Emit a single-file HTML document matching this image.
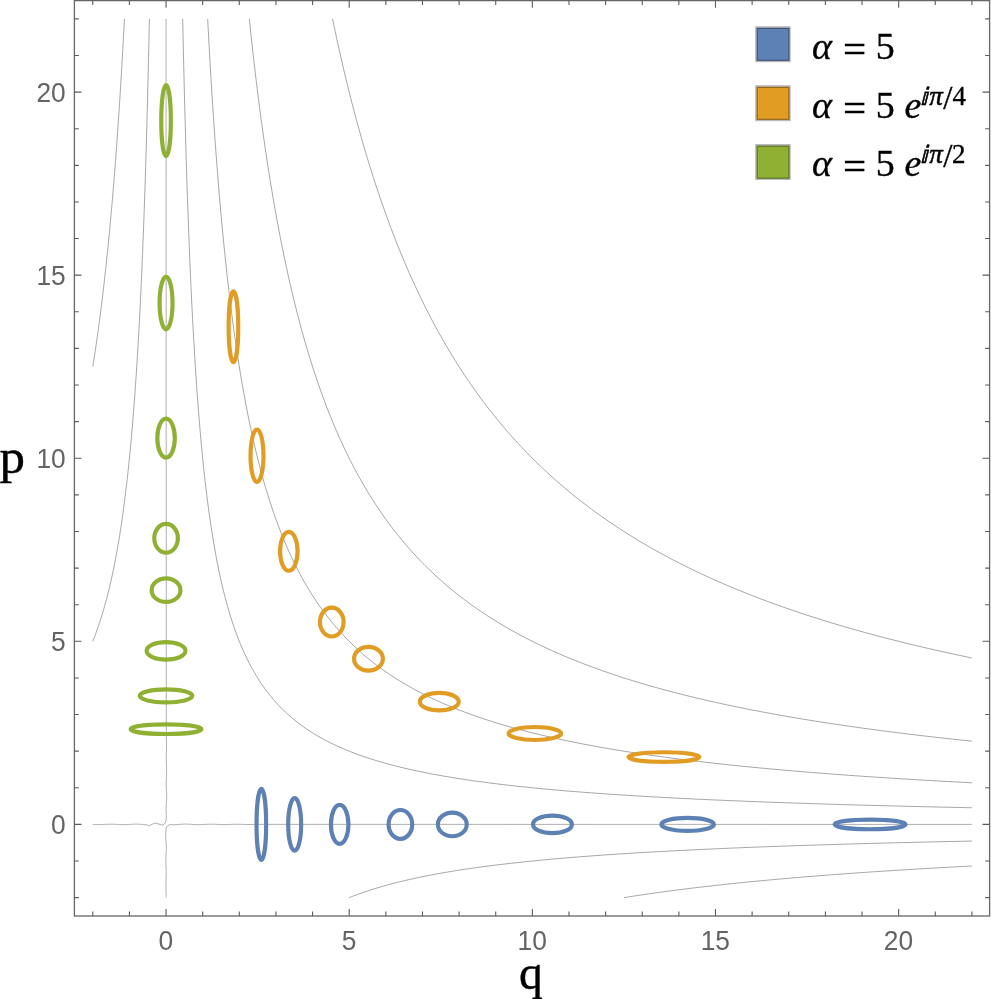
<!DOCTYPE html>
<html><head><meta charset="utf-8"><title>Squeezed states phase space</title>
<style>html,body{margin:0;padding:0;background:#fff}svg{display:block}.tk{font-family:"Liberation Sans",sans-serif;font-size:27.6px;fill:#646464;transform-box:fill-box;transform:scale(0.955,1.03)}.tl{transform-origin:100% 50%}.tb{transform-origin:50% 100%}.ax{font-family:"Liberation Serif",serif;font-size:48.5px;fill:#000;stroke:#000;stroke-width:0.4px}.lg{font-family:"Liberation Serif",serif;font-size:38px;fill:#000;stroke:#000;stroke-width:0.35px}</style></head><body>
<svg width="991" height="999" viewBox="0 0 991 999">
<rect width="991" height="999" fill="#fff"/>
<g fill="none" stroke="#5e5e5e" stroke-width="0.55">
<path d="M182.70 18.87 L183.03 34.34 L183.36 49.52 L183.70 64.41 L184.04 79.01 L184.40 93.33 L184.76 107.37 L185.12 121.15 L185.50 134.66 L185.88 147.91 L186.26 160.90 L186.66 173.65 L187.06 186.15 L187.48 198.41 L187.90 210.44 L188.32 222.23 L188.76 233.80 L189.20 245.14 L189.66 256.27 L190.12 267.19 L190.59 277.89 L191.07 288.39 L191.56 298.69 L192.06 308.79 L192.57 318.69 L193.09 328.41 L193.62 337.93 L194.16 347.28 L194.71 356.45 L195.27 365.44 L195.84 374.25 L196.43 382.90 L197.02 391.38 L197.63 399.70 L198.25 407.86 L198.88 415.86 L199.52 423.71 L200.18 431.41 L200.85 438.96 L201.53 446.36 L202.22 453.62 L202.93 460.75 L203.65 467.73 L204.39 474.58 L205.14 481.30 L205.91 487.90 L206.69 494.36 L207.48 500.70 L208.30 506.92 L209.12 513.02 L209.97 519.00 L210.83 524.87 L211.70 530.62 L212.60 536.26 L213.51 541.80 L214.44 547.23 L215.39 552.55 L216.35 557.78 L217.34 562.90 L218.34 567.92 L219.37 572.85 L220.41 577.68 L221.48 582.42 L222.56 587.07 L223.67 591.63 L224.80 596.10 L225.95 600.49 L227.12 604.79 L228.32 609.01 L229.54 613.14 L230.78 617.20 L232.05 621.18 L233.34 625.09 L234.66 628.92 L236.00 632.67 L237.37 636.35 L238.77 639.97 L240.19 643.51 L241.65 646.98 L243.13 650.39 L244.64 653.74 L246.18 657.01 L247.75 660.23 L249.35 663.38 L250.98 666.48 L252.64 669.51 L254.34 672.49 L256.07 675.40 L257.83 678.27 L259.63 681.07 L261.46 683.83 L263.33 686.53 L265.23 689.18 L267.18 691.77 L269.16 694.32 L271.18 696.82 L273.24 699.27 L275.34 701.68 L277.48 704.03 L279.66 706.35 L281.88 708.61 L284.15 710.84 L286.47 713.02 L288.82 715.16 L291.23 717.26 L293.68 719.32 L296.18 721.33 L298.73 723.31 L301.33 725.26 L303.98 727.16 L306.68 729.03 L309.43 730.86 L312.24 732.66 L315.11 734.42 L318.03 736.15 L321.00 737.84 L324.04 739.51 L327.13 741.14 L330.29 742.74 L333.50 744.31 L336.78 745.84 L340.13 747.35 L343.54 748.83 L347.01 750.29 L350.56 751.71 L354.17 753.11 L357.86 754.48 L361.61 755.82 L365.45 757.14 L369.35 758.43 L373.33 759.70 L377.39 760.94 L381.53 762.16 L385.75 763.35 L390.06 764.53 L394.44 765.68 L398.92 766.80 L403.48 767.91 L408.13 769.00 L412.87 770.06 L417.71 771.10 L422.63 772.13 L427.66 773.13 L432.78 774.12 L438.01 775.08 L443.34 776.03 L448.77 776.96 L454.30 777.87 L459.95 778.77 L465.71 779.64 L471.58 780.50 L477.56 781.35 L483.66 782.17 L489.88 782.98 L496.23 783.78 L502.69 784.56 L509.29 785.32 L516.01 786.08 L522.86 786.81 L529.85 787.53 L536.98 788.24 L544.24 788.94 L551.65 789.62 L559.20 790.29 L566.91 790.94 L574.76 791.58 L582.76 792.21 L590.92 792.83 L599.25 793.44 L607.73 794.03 L616.38 794.62 L625.20 795.19 L634.20 795.75 L643.37 796.30 L652.71 796.84 L662.25 797.37 L671.97 797.89 L681.87 798.40 L691.98 798.90 L702.28 799.39 L712.78 799.87 L723.49 800.34 L734.41 800.80 L745.54 801.26 L756.89 801.70 L768.47 802.14 L780.27 802.56 L792.30 802.98 L804.56 803.39 L817.07 803.80 L829.82 804.19 L842.82 804.58 L856.08 804.96 L869.59 805.34 L883.37 805.70 L897.42 806.06 L911.75 806.41 L926.35 806.76 L941.25 807.10 L956.43 807.43 L971.91 807.76"/>
<path d="M207.68 18.87 L208.30 30.72 L208.93 42.39 L209.57 53.89 L210.22 65.22 L210.88 76.39 L211.54 87.39 L212.22 98.23 L212.91 108.91 L213.61 119.43 L214.32 129.80 L215.04 140.01 L215.77 150.08 L216.52 160.00 L217.27 169.77 L218.03 179.39 L218.81 188.88 L219.60 198.23 L220.40 207.44 L221.21 216.51 L222.03 225.45 L222.87 234.26 L223.72 242.94 L224.58 251.49 L225.45 259.91 L226.34 268.22 L227.24 276.40 L228.15 284.46 L229.08 292.40 L230.02 300.22 L230.97 307.93 L231.94 315.52 L232.92 323.01 L233.92 330.38 L234.94 337.65 L235.96 344.81 L237.01 351.86 L238.07 358.81 L239.14 365.66 L240.23 372.40 L241.34 379.05 L242.46 385.60 L243.60 392.05 L244.76 398.41 L245.94 404.68 L247.13 410.85 L248.34 416.93 L249.57 422.92 L250.81 428.83 L252.08 434.65 L253.36 440.38 L254.67 446.03 L255.99 451.59 L257.33 457.07 L258.69 462.48 L260.08 467.80 L261.48 473.04 L262.91 478.21 L264.35 483.30 L265.82 488.32 L267.31 493.26 L268.82 498.13 L270.35 502.93 L271.91 507.66 L273.49 512.32 L275.09 516.91 L276.72 521.43 L278.37 525.88 L280.05 530.27 L281.75 534.60 L283.48 538.86 L285.23 543.06 L287.01 547.20 L288.82 551.28 L290.65 555.29 L292.51 559.25 L294.39 563.15 L296.31 566.99 L298.25 570.78 L300.23 574.51 L302.23 578.18 L304.26 581.80 L306.33 585.37 L308.42 588.89 L310.55 592.35 L312.70 595.76 L314.89 599.13 L317.11 602.44 L319.37 605.70 L321.66 608.92 L323.98 612.09 L326.34 615.21 L328.73 618.29 L331.16 621.32 L333.62 624.31 L336.12 627.25 L338.66 630.15 L341.24 633.00 L343.85 635.82 L346.51 638.59 L349.20 641.33 L351.93 644.02 L354.71 646.67 L357.52 649.28 L360.38 651.86 L363.28 654.40 L366.23 656.90 L369.21 659.36 L372.25 661.79 L375.33 664.18 L378.45 666.54 L381.62 668.86 L384.84 671.14 L388.10 673.40 L391.42 675.62 L394.78 677.81 L398.20 679.96 L401.66 682.09 L405.18 684.18 L408.75 686.24 L412.37 688.27 L416.05 690.28 L419.78 692.25 L423.56 694.19 L427.41 696.11 L431.31 697.99 L435.27 699.85 L439.29 701.69 L443.37 703.49 L447.50 705.27 L451.71 707.02 L455.97 708.75 L460.30 710.45 L464.69 712.12 L469.15 713.77 L473.67 715.40 L478.26 717.00 L482.92 718.58 L487.65 720.14 L492.45 721.67 L497.32 723.18 L502.27 724.67 L507.29 726.14 L512.38 727.58 L517.55 729.01 L522.80 730.41 L528.12 731.79 L533.53 733.16 L539.01 734.50 L544.58 735.82 L550.23 737.12 L555.96 738.41 L561.78 739.67 L567.69 740.92 L573.68 742.14 L579.77 743.35 L585.94 744.55 L592.21 745.72 L598.57 746.88 L605.03 748.02 L611.58 749.14 L618.23 750.25 L624.98 751.34 L631.83 752.41 L638.78 753.47 L645.84 754.51 L653.00 755.54 L660.27 756.56 L667.65 757.55 L675.13 758.54 L682.73 759.50 L690.44 760.46 L698.27 761.40 L706.22 762.33 L714.28 763.24 L722.46 764.14 L730.77 765.02 L739.20 765.90 L747.75 766.76 L756.43 767.61 L765.25 768.44 L774.19 769.26 L783.27 770.08 L792.48 770.87 L801.83 771.66 L811.32 772.44 L820.95 773.20 L830.73 773.95 L840.65 774.70 L850.72 775.43 L860.94 776.15 L871.31 776.86 L881.84 777.56 L892.52 778.25 L903.36 778.92 L914.37 779.59 L925.54 780.25 L936.88 780.90 L948.38 781.54 L960.06 782.17 L971.91 782.79"/>
<path d="M249.30 18.87 L250.25 27.96 L251.21 36.95 L252.18 45.84 L253.17 54.62 L254.16 63.31 L255.17 71.90 L256.18 80.39 L257.21 88.79 L258.25 97.09 L259.31 105.30 L260.37 113.42 L261.45 121.44 L262.54 129.38 L263.64 137.22 L264.75 144.98 L265.88 152.64 L267.02 160.23 L268.17 167.72 L269.34 175.13 L270.52 182.46 L271.71 189.71 L272.91 196.87 L274.13 203.95 L275.37 210.95 L276.62 217.88 L277.88 224.72 L279.15 231.49 L280.44 238.18 L281.75 244.80 L283.07 251.34 L284.41 257.81 L285.76 264.20 L287.12 270.52 L288.51 276.78 L289.90 282.96 L291.32 289.07 L292.75 295.11 L294.19 301.08 L295.66 306.99 L297.14 312.83 L298.63 318.60 L300.15 324.31 L301.68 329.95 L303.23 335.53 L304.79 341.05 L306.38 346.51 L307.98 351.90 L309.60 357.23 L311.24 362.51 L312.89 367.72 L314.57 372.87 L316.26 377.97 L317.98 383.01 L319.71 387.99 L321.47 392.91 L323.24 397.78 L325.04 402.60 L326.85 407.36 L328.69 412.07 L330.54 416.72 L332.42 421.32 L334.32 425.87 L336.24 430.37 L338.18 434.82 L340.15 439.21 L342.14 443.56 L344.15 447.86 L346.18 452.11 L348.23 456.31 L350.31 460.46 L352.42 464.57 L354.54 468.63 L356.70 472.65 L358.87 476.62 L361.07 480.54 L363.30 484.42 L365.55 488.26 L367.83 492.05 L370.13 495.80 L372.46 499.51 L374.82 503.18 L377.20 506.81 L379.61 510.39 L382.05 513.93 L384.51 517.44 L387.01 520.90 L389.53 524.33 L392.08 527.71 L394.66 531.06 L397.27 534.37 L399.91 537.65 L402.58 540.88 L405.28 544.08 L408.01 547.25 L410.77 550.37 L413.57 553.47 L416.39 556.53 L419.25 559.55 L422.14 562.54 L425.06 565.49 L428.02 568.41 L431.01 571.30 L434.03 574.16 L437.09 576.98 L440.19 579.78 L443.32 582.54 L446.48 585.27 L449.68 587.97 L452.92 590.63 L456.20 593.27 L459.51 595.88 L462.86 598.46 L466.25 601.01 L469.67 603.53 L473.14 606.02 L476.64 608.49 L480.19 610.93 L483.77 613.34 L487.40 615.72 L491.07 618.07 L494.78 620.40 L498.53 622.70 L502.33 624.98 L506.17 627.23 L510.05 629.46 L513.98 631.66 L517.95 633.83 L521.96 635.98 L526.03 638.11 L530.14 640.21 L534.29 642.29 L538.49 644.35 L542.75 646.38 L547.05 648.39 L551.40 650.37 L555.79 652.34 L560.24 654.28 L564.74 656.20 L569.29 658.10 L573.90 659.97 L578.55 661.83 L583.26 663.67 L588.02 665.48 L592.84 667.27 L597.71 669.05 L602.64 670.80 L607.62 672.53 L612.66 674.25 L617.76 675.94 L622.92 677.62 L628.13 679.27 L633.41 680.91 L638.74 682.53 L644.14 684.13 L649.60 685.72 L655.12 687.28 L660.70 688.83 L666.34 690.36 L672.06 691.87 L677.83 693.37 L683.67 694.85 L689.58 696.31 L695.56 697.75 L701.60 699.18 L707.72 700.60 L713.90 701.99 L720.15 703.37 L726.48 704.74 L732.87 706.09 L739.35 707.43 L745.89 708.75 L752.51 710.05 L759.20 711.34 L765.97 712.62 L772.82 713.88 L779.75 715.13 L786.75 716.36 L793.84 717.58 L801.00 718.79 L808.25 719.98 L815.58 721.16 L823.00 722.32 L830.50 723.47 L838.08 724.61 L845.75 725.74 L853.51 726.85 L861.36 727.95 L869.30 729.04 L877.32 730.12 L885.44 731.18 L893.65 732.23 L901.96 733.27 L910.36 734.30 L918.86 735.32 L927.45 736.32 L936.14 737.32 L944.93 738.30 L953.82 739.27 L962.81 740.23 L971.91 741.18"/>
<path d="M332.55 18.87 L333.87 25.20 L335.20 31.47 L336.54 37.70 L337.88 43.88 L339.25 50.01 L340.62 56.09 L342.00 62.12 L343.39 68.11 L344.79 74.05 L346.21 79.94 L347.64 85.79 L349.07 91.59 L350.52 97.35 L351.98 103.06 L353.45 108.72 L354.94 114.34 L356.43 119.92 L357.94 125.45 L359.46 130.94 L360.99 136.39 L362.53 141.79 L364.09 147.15 L365.66 152.47 L367.24 157.75 L368.83 162.98 L370.43 168.18 L372.05 173.33 L373.68 178.44 L375.32 183.52 L376.98 188.55 L378.65 193.54 L380.33 198.50 L382.03 203.41 L383.74 208.29 L385.46 213.13 L387.20 217.93 L388.95 222.69 L390.71 227.42 L392.49 232.11 L394.29 236.76 L396.09 241.37 L397.91 245.95 L399.75 250.50 L401.60 255.00 L403.46 259.47 L405.34 263.91 L407.24 268.31 L409.15 272.68 L411.07 277.01 L413.01 281.31 L414.96 285.58 L416.93 289.81 L418.92 294.01 L420.92 298.17 L422.94 302.31 L424.97 306.41 L427.02 310.47 L429.09 314.51 L431.17 318.51 L433.27 322.49 L435.38 326.43 L437.52 330.34 L439.67 334.22 L441.83 338.07 L444.01 341.89 L446.21 345.68 L448.43 349.44 L450.67 353.17 L452.92 356.87 L455.19 360.54 L457.48 364.18 L459.79 367.80 L462.11 371.38 L464.46 374.94 L466.82 378.47 L469.20 381.97 L471.60 385.45 L474.02 388.90 L476.45 392.32 L478.91 395.71 L481.39 399.08 L483.88 402.42 L486.40 405.73 L488.94 409.02 L491.49 412.28 L494.07 415.52 L496.66 418.73 L499.28 421.91 L501.92 425.08 L504.58 428.21 L507.26 431.32 L509.96 434.41 L512.68 437.47 L515.42 440.51 L518.19 443.53 L520.98 446.52 L523.79 449.49 L526.62 452.43 L529.47 455.35 L532.35 458.25 L535.25 461.13 L538.17 463.98 L541.12 466.81 L544.09 469.62 L547.08 472.40 L550.10 475.17 L553.14 477.91 L556.20 480.63 L559.29 483.33 L562.40 486.01 L565.54 488.67 L568.70 491.30 L571.89 493.92 L575.10 496.52 L578.34 499.09 L581.60 501.65 L584.89 504.18 L588.21 506.70 L591.55 509.19 L594.92 511.67 L598.31 514.12 L601.73 516.56 L605.18 518.98 L608.66 521.38 L612.16 523.76 L615.69 526.12 L619.25 528.46 L622.84 530.78 L626.45 533.09 L630.10 535.38 L633.77 537.65 L637.47 539.90 L641.21 542.13 L644.97 544.35 L648.76 546.55 L652.58 548.73 L656.43 550.90 L660.31 553.04 L664.22 555.18 L668.17 557.29 L672.14 559.39 L676.15 561.47 L680.19 563.53 L684.26 565.58 L688.36 567.62 L692.49 569.63 L696.66 571.63 L700.86 573.62 L705.09 575.59 L709.36 577.54 L713.66 579.48 L718.00 581.40 L722.37 583.31 L726.77 585.21 L731.21 587.08 L735.68 588.95 L740.19 590.80 L744.73 592.63 L749.32 594.45 L753.93 596.26 L758.59 598.05 L763.28 599.83 L768.00 601.59 L772.77 603.34 L777.57 605.08 L782.41 606.80 L787.29 608.51 L792.21 610.20 L797.17 611.89 L802.16 613.56 L807.20 615.21 L812.27 616.85 L817.39 618.48 L822.54 620.10 L827.74 621.71 L832.98 623.30 L838.26 624.88 L843.58 626.44 L848.94 628.00 L854.35 629.54 L859.79 631.07 L865.29 632.59 L870.82 634.10 L876.40 635.59 L882.02 637.07 L887.69 638.54 L893.40 640.00 L899.16 641.45 L904.96 642.89 L910.81 644.31 L916.71 645.73 L922.65 647.13 L928.64 648.52 L934.67 649.91 L940.76 651.28 L946.89 652.64 L953.07 653.98 L959.30 655.32 L965.58 656.65 L971.91 657.97"/>
<path d="M349.20 897.63 L351.48 896.73 L353.78 895.84 L356.11 894.97 L358.47 894.10 L360.86 893.25 L363.28 892.40 L365.73 891.57 L368.21 890.74 L370.73 889.93 L373.27 889.12 L375.84 888.33 L378.45 887.55 L381.09 886.77 L383.76 886.01 L386.46 885.25 L389.20 884.50 L391.97 883.77 L394.78 883.04 L397.62 882.32 L400.50 881.61 L403.41 880.90 L406.36 880.21 L409.35 879.53 L412.37 878.85 L415.43 878.18 L418.53 877.52 L421.66 876.87 L424.84 876.23 L428.05 875.59 L431.31 874.96 L434.60 874.34 L437.94 873.73 L441.32 873.12 L444.74 872.53 L448.20 871.94 L451.71 871.35 L455.25 870.78 L458.85 870.21 L462.48 869.64 L466.17 869.09 L469.90 868.54 L473.67 868.00 L477.49 867.46 L481.36 866.94 L485.28 866.41 L489.24 865.90 L493.26 865.39 L497.32 864.89 L501.44 864.39 L505.61 863.90 L509.83 863.41 L514.10 862.94 L518.42 862.46 L522.80 862.00 L527.23 861.53 L531.72 861.08 L536.26 860.63 L540.86 860.18 L545.51 859.74 L550.23 859.31 L555.00 858.88 L559.83 858.46 L564.73 858.04 L569.68 857.63 L574.69 857.22 L579.77 856.82 L584.91 856.42 L590.11 856.03 L595.38 855.64 L600.71 855.26 L606.11 854.88 L611.58 854.50 L617.12 854.13 L622.72 853.77 L628.39 853.41 L634.14 853.05 L639.95 852.70 L645.84 852.35 L651.80 852.01 L657.84 851.67 L663.94 851.34 L670.13 851.01 L676.39 850.68 L682.73 850.36 L689.15 850.04 L695.65 849.72 L702.23 849.41 L708.89 849.11 L715.63 848.80 L722.46 848.50 L729.37 848.21 L736.37 847.92 L743.46 847.63 L750.63 847.34 L757.89 847.06 L765.25 846.78 L772.69 846.51 L780.23 846.24 L787.86 845.97 L795.58 845.70 L803.40 845.44 L811.32 845.19 L819.34 844.93 L827.45 844.68 L835.67 844.43 L843.99 844.18 L852.41 843.94 L860.94 843.70 L869.57 843.46 L878.31 843.23 L887.16 843.00 L896.12 842.77 L905.19 842.55 L914.37 842.32 L923.67 842.10 L933.08 841.89 L942.61 841.67 L952.25 841.46 L962.02 841.25 L971.91 841.04"/>
<path d="M92.79 641.32 L93.69 639.05 L94.58 636.75 L95.45 634.42 L96.32 632.06 L97.18 629.67 L98.02 627.25 L98.86 624.80 L99.68 622.32 L100.49 619.81 L101.30 617.27 L102.09 614.69 L102.88 612.09 L103.65 609.45 L104.42 606.78 L105.18 604.08 L105.92 601.34 L106.66 598.57 L107.39 595.76 L108.11 592.92 L108.82 590.05 L109.52 587.14 L110.22 584.19 L110.90 581.20 L111.58 578.18 L112.25 575.12 L112.91 572.03 L113.56 568.89 L114.20 565.72 L114.84 562.50 L115.47 559.25 L116.09 555.96 L116.70 552.62 L117.31 549.24 L117.90 545.83 L118.50 542.37 L119.08 538.86 L119.66 535.31 L120.22 531.72 L120.79 528.09 L121.34 524.41 L121.89 520.68 L122.43 516.91 L122.97 513.09 L123.50 509.22 L124.02 505.30 L124.53 501.34 L125.04 497.32 L125.55 493.26 L126.04 489.15 L126.54 484.98 L127.02 480.77 L127.50 476.50 L127.97 472.17 L128.44 467.80 L128.90 463.37 L129.36 458.88 L129.81 454.34 L130.25 449.75 L130.69 445.09 L131.12 440.38 L131.55 435.61 L131.98 430.78 L132.39 425.89 L132.81 420.94 L133.22 415.92 L133.62 410.85 L134.02 405.71 L134.41 400.51 L134.80 395.24 L135.18 389.91 L135.56 384.52 L135.93 379.05 L136.30 373.52 L136.67 367.92 L137.03 362.25 L137.39 356.50 L137.74 350.69 L138.08 344.81 L138.43 338.85 L138.77 332.82 L139.10 326.71 L139.43 320.53 L139.76 314.27 L140.08 307.93 L140.40 301.51 L140.71 295.02 L141.03 288.44 L141.33 281.78 L141.64 275.04 L141.94 268.22 L142.23 261.31 L142.52 254.31 L142.81 247.23 L143.10 240.06 L143.38 232.80 L143.66 225.45 L143.93 218.01 L144.20 210.47 L144.47 202.85 L144.74 195.13 L145.00 187.31 L145.26 179.39 L145.51 171.38 L145.76 163.27 L146.01 155.05 L146.26 146.74 L146.50 138.32 L146.74 129.80 L146.98 121.17 L147.21 112.43 L147.44 103.59 L147.67 94.63 L147.90 85.57 L148.12 76.39 L148.34 67.09 L148.56 57.69 L148.77 48.16 L148.98 38.52 L149.19 28.75 L149.40 18.87"/>
<path d="M623.93 897.63 L626.09 897.29 L628.26 896.94 L630.44 896.60 L632.63 896.26 L634.84 895.93 L637.05 895.59 L639.28 895.25 L641.51 894.92 L643.76 894.59 L646.01 894.26 L648.28 893.93 L650.55 893.61 L652.84 893.28 L655.14 892.96 L657.45 892.63 L659.77 892.31 L662.10 891.99 L664.45 891.68 L666.80 891.36 L669.16 891.05 L671.54 890.73 L673.93 890.42 L676.32 890.11 L678.73 889.80 L681.15 889.49 L683.59 889.19 L686.03 888.88 L688.49 888.58 L690.95 888.28 L693.43 887.98 L695.92 887.68 L698.42 887.38 L700.94 887.09 L703.46 886.79 L706.00 886.50 L708.55 886.21 L711.11 885.92 L713.69 885.63 L716.27 885.34 L718.87 885.05 L721.48 884.77 L724.10 884.48 L726.74 884.20 L729.39 883.92 L732.05 883.64 L734.72 883.36 L737.41 883.09 L740.10 882.81 L742.81 882.54 L745.54 882.26 L748.27 881.99 L751.02 881.72 L753.79 881.45 L756.56 881.18 L759.35 880.91 L762.15 880.65 L764.97 880.38 L767.79 880.12 L770.63 879.86 L773.49 879.60 L776.36 879.34 L779.24 879.08 L782.14 878.82 L785.04 878.57 L787.97 878.31 L790.90 878.06 L793.86 877.81 L796.82 877.56 L799.80 877.31 L802.79 877.06 L805.80 876.81 L808.82 876.57 L811.85 876.32 L814.90 876.08 L817.97 875.83 L821.05 875.59 L824.14 875.35 L827.25 875.11 L830.37 874.87 L833.51 874.64 L836.66 874.40 L839.82 874.16 L843.01 873.93 L846.20 873.70 L849.41 873.47 L852.64 873.24 L855.88 873.01 L859.14 872.78 L862.41 872.55 L865.70 872.32 L869.00 872.10 L872.32 871.87 L875.66 871.65 L879.01 871.43 L882.38 871.21 L885.76 870.99 L889.16 870.77 L892.57 870.55 L896.00 870.33 L899.45 870.12 L902.91 869.90 L906.39 869.69 L909.89 869.48 L913.40 869.27 L916.93 869.05 L920.48 868.84 L924.04 868.64 L927.62 868.43 L931.21 868.22 L934.83 868.01 L938.46 867.81 L942.10 867.61 L945.77 867.40 L949.45 867.20 L953.15 867.00 L956.87 866.80 L960.60 866.60 L964.35 866.40 L968.12 866.20 L971.91 866.01"/>
<path d="M92.79 366.71 L93.13 364.55 L93.48 362.38 L93.82 360.20 L94.16 358.01 L94.50 355.80 L94.83 353.59 L95.17 351.37 L95.50 349.13 L95.83 346.89 L96.16 344.64 L96.49 342.37 L96.82 340.09 L97.14 337.81 L97.47 335.51 L97.79 333.20 L98.11 330.88 L98.43 328.55 L98.75 326.21 L99.06 323.86 L99.38 321.49 L99.69 319.12 L100.00 316.73 L100.31 314.33 L100.62 311.93 L100.93 309.51 L101.24 307.08 L101.54 304.63 L101.84 302.18 L102.15 299.71 L102.45 297.23 L102.74 294.74 L103.04 292.24 L103.34 289.73 L103.63 287.21 L103.93 284.67 L104.22 282.12 L104.51 279.56 L104.80 276.99 L105.09 274.40 L105.37 271.81 L105.66 269.20 L105.94 266.57 L106.22 263.94 L106.50 261.29 L106.78 258.63 L107.06 255.96 L107.34 253.28 L107.62 250.58 L107.89 247.87 L108.16 245.15 L108.44 242.41 L108.71 239.67 L108.98 236.91 L109.25 234.13 L109.51 231.34 L109.78 228.54 L110.04 225.73 L110.31 222.90 L110.57 220.06 L110.83 217.21 L111.09 214.34 L111.35 211.46 L111.60 208.57 L111.86 205.66 L112.11 202.74 L112.37 199.80 L112.62 196.85 L112.87 193.89 L113.12 190.91 L113.37 187.92 L113.62 184.91 L113.86 181.89 L114.11 178.86 L114.35 175.81 L114.60 172.75 L114.84 169.67 L115.08 166.58 L115.32 163.47 L115.56 160.35 L115.79 157.22 L116.03 154.07 L116.26 150.90 L116.50 147.72 L116.73 144.53 L116.96 141.32 L117.19 138.09 L117.42 134.85 L117.65 131.59 L117.88 128.32 L118.11 125.04 L118.33 121.73 L118.56 118.42 L118.78 115.08 L119.00 111.73 L119.22 108.37 L119.44 104.99 L119.66 101.59 L119.88 98.18 L120.10 94.75 L120.31 91.30 L120.53 87.84 L120.74 84.36 L120.95 80.87 L121.17 77.36 L121.38 73.83 L121.59 70.28 L121.80 66.72 L122.00 63.14 L122.21 59.55 L122.42 55.94 L122.62 52.31 L122.83 48.66 L123.03 45.00 L123.23 41.32 L123.43 37.62 L123.63 33.91 L123.83 30.17 L124.03 26.42 L124.23 22.66 L124.43 18.87"/>
<path d="M92.79 824.44 L93.64 824.47 L94.50 824.49 L95.35 824.51 L96.21 824.52 L97.06 824.53 L97.92 824.54 L98.77 824.54 L99.63 824.53 L100.48 824.51 L101.34 824.49 L102.19 824.47 L103.05 824.44 L103.90 824.41 L104.76 824.38 L105.61 824.35 L106.47 824.31 L107.32 824.29 L108.17 824.26 L109.03 824.25 L109.88 824.23 L110.74 824.23 L111.59 824.23 L112.45 824.24 L113.30 824.26 L114.16 824.29 L115.01 824.32 L115.87 824.35 L116.72 824.39 L117.58 824.43 L118.43 824.47 L119.29 824.51 L120.14 824.54 L121.00 824.57 L121.85 824.59 L122.70 824.61 L123.56 824.61 L124.41 824.61 L125.27 824.59 L126.12 824.57 L126.98 824.54 L127.83 824.50 L128.69 824.46 L129.54 824.41 L130.40 824.36 L131.25 824.31 L132.11 824.26 L132.96 824.22 L133.82 824.19 L134.67 824.16 L135.53 824.14 L136.38 824.14 L137.23 824.14 L138.09 824.16 L138.94 824.19 L139.80 824.23 L140.65 824.27 L141.51 824.33 L142.36 824.39 L143.22 824.45 L144.07 824.51 L149.57 825.50 L155.06 822.94 L162.39 825.13 Q166.05 824.40 166.42 817.08 L166.42 815.67 L166.29 814.27 L166.19 812.87 L166.11 811.46 L166.08 810.06 L166.08 808.66 L166.13 807.25 L166.20 805.85 L166.30 804.44 L166.41 803.04 L166.51 801.64 L166.59 800.23 L166.66 798.83 L166.69 797.43 L166.69 796.02 L166.65 794.62 L166.59 793.22 L166.52 791.81 L166.43 790.41 L166.35 789.01 L166.28 787.60 L166.23 786.20 L166.20 784.79 L166.20 783.39 L166.22 781.99 L166.27 780.58 L166.33 779.18 L166.40 777.78 L166.46 776.37 L166.52 774.97 L166.56 773.57 L166.59 772.16 L166.59 770.76 L166.57 769.36 L166.54 767.95 L166.49 766.55 L166.44 765.14 L166.38 763.74 L166.34 762.34 L166.30 760.93 L166.28 759.53 L166.27 758.13 L166.29 756.72 L166.31 755.32 L166.35 753.92 L166.39 752.51 L166.44 751.11 L166.48 749.71 L166.51 748.30 L166.53 746.90 L166.53 745.49 L166.52 744.09 L166.50 742.69 L166.47 741.28 L166.44 739.88 L166.40 738.48 L166.37 737.07 L166.35 735.67 L166.33 734.27 L166.32 732.86 L166.05 18.87" stroke="#6c6c6c"/>
<path d="M166.16 897.63 L166.15 896.48 L166.12 895.34 L166.09 894.19 L166.05 893.04 L166.01 891.89 L165.98 890.75 L165.94 889.60 L165.92 888.45 L165.90 887.30 L165.90 886.16 L165.90 885.01 L165.92 883.86 L165.95 882.72 L165.99 881.57 L166.04 880.42 L166.09 879.27 L166.13 878.13 L166.18 876.98 L166.21 875.83 L166.23 874.68 L166.24 873.54 L166.23 872.39 L166.21 871.24 L166.17 870.10 L166.13 868.95 L166.07 867.80 L166.01 866.65 L165.95 865.51 L165.90 864.36 L165.86 863.21 L165.83 862.06 L165.81 860.92 L165.82 859.77 L165.85 858.62 L165.89 857.48 L165.95 856.33 L166.01 855.18 L166.09 854.03 L166.16 852.89 L166.23 851.74 L166.28 850.59 L166.32 849.44 L166.34 848.30 L166.34 847.15 L166.31 846.00 L166.26 844.86 L166.19 843.71 L166.11 842.56 L166.02 841.41 L165.92 840.27 L165.84 839.12 L165.77 837.97 L165.71 836.82 L165.69 835.68 L165.69 834.53 L165.72 833.38 L165.78 832.24 L165.86 831.09 L165.96 829.94 L166.08 828.79 Q166.05 825.13 171.54 824.40 L172.98 824.79 L174.41 824.76 L175.85 824.69 L177.28 824.58 L178.72 824.46 L180.15 824.34 L181.59 824.23 L183.02 824.15 L184.46 824.10 L185.89 824.09 L187.33 824.12 L188.76 824.18 L190.20 824.26 L191.63 824.36 L193.06 824.46 L194.50 824.54 L195.93 824.61 L197.37 824.65 L198.80 824.65 L200.24 824.63 L201.67 824.57 L203.11 824.50 L204.54 824.42 L205.98 824.35 L207.41 824.28 L208.85 824.23 L210.28 824.20 L211.72 824.20 L213.15 824.22 L214.58 824.26 L216.02 824.32 L217.45 824.39 L218.89 824.45 L220.32 824.50 L221.76 824.54 L223.19 824.56 L224.63 824.56 L226.06 824.54 L227.50 824.51 L228.93 824.46 L230.37 824.41 L231.80 824.36 L233.24 824.31 L234.67 824.28 L236.10 824.27 L237.54 824.27 L238.97 824.29 L240.41 824.32 L241.84 824.36 L243.28 824.40 L244.71 824.44 L246.15 824.47 L247.58 824.49 L249.02 824.51 L250.45 824.50 L251.89 824.49 L253.32 824.46 L254.76 824.43 L256.19 824.40 L257.62 824.37 L971.91 824.40" stroke="#6c6c6c"/>
</g>
<g fill="none" stroke-width="4.15">
<ellipse cx="261.34" cy="824.40" rx="4.80" ry="35.47" stroke="#5E81B5"/>
<ellipse cx="294.67" cy="824.40" rx="6.48" ry="26.28" stroke="#5E81B5"/>
<ellipse cx="339.67" cy="824.40" rx="8.75" ry="19.47" stroke="#5E81B5"/>
<ellipse cx="400.41" cy="824.40" rx="11.81" ry="14.42" stroke="#5E81B5"/>
<ellipse cx="452.30" cy="824.40" rx="14.42" ry="11.81" stroke="#5E81B5"/>
<ellipse cx="552.45" cy="824.40" rx="19.47" ry="8.75" stroke="#5E81B5"/>
<ellipse cx="687.64" cy="824.40" rx="26.28" ry="6.48" stroke="#5E81B5"/>
<ellipse cx="870.12" cy="824.40" rx="35.47" ry="4.80" stroke="#5E81B5"/>
<ellipse cx="233.43" cy="326.75" rx="4.80" ry="35.47" stroke="#E19C24"/>
<ellipse cx="257.00" cy="455.73" rx="6.48" ry="26.28" stroke="#E19C24"/>
<ellipse cx="288.82" cy="551.28" rx="8.75" ry="19.47" stroke="#E19C24"/>
<ellipse cx="331.77" cy="622.07" rx="11.81" ry="14.42" stroke="#E19C24"/>
<ellipse cx="368.46" cy="658.75" rx="14.42" ry="11.81" stroke="#E19C24"/>
<ellipse cx="439.28" cy="701.68" rx="19.47" ry="8.75" stroke="#E19C24"/>
<ellipse cx="534.87" cy="733.49" rx="26.28" ry="6.48" stroke="#E19C24"/>
<ellipse cx="663.90" cy="757.05" rx="35.47" ry="4.80" stroke="#E19C24"/>
<ellipse cx="166.05" cy="120.62" rx="4.80" ry="35.47" stroke="#8FB032"/>
<ellipse cx="166.05" cy="303.03" rx="6.48" ry="26.28" stroke="#8FB032"/>
<ellipse cx="166.05" cy="438.16" rx="8.75" ry="19.47" stroke="#8FB032"/>
<ellipse cx="166.05" cy="538.26" rx="11.81" ry="14.42" stroke="#8FB032"/>
<ellipse cx="166.05" cy="590.13" rx="14.42" ry="11.81" stroke="#8FB032"/>
<ellipse cx="166.05" cy="650.85" rx="19.47" ry="8.75" stroke="#8FB032"/>
<ellipse cx="166.05" cy="695.83" rx="26.28" ry="6.48" stroke="#8FB032"/>
<ellipse cx="166.05" cy="729.15" rx="35.47" ry="4.80" stroke="#8FB032"/>
</g>
<g fill="none" stroke="#666" stroke-width="1.3">
<rect x="74.4" y="0.6" width="915.20" height="915.40"/>
<path d="M92.79 916.0 v-4.4 M92.79 0.6 v4.4 M74.4 897.63 h4.4 M989.6 897.63 h-4.4 M129.42 916.0 v-4.4 M129.42 0.6 v4.4 M74.4 861.01 h4.4 M989.6 861.01 h-4.4 M166.05 916.0 v-7.1 M166.05 0.6 v7.1 M74.4 824.40 h7.1 M989.6 824.40 h-7.1 M202.68 916.0 v-4.4 M202.68 0.6 v4.4 M74.4 787.78 h4.4 M989.6 787.78 h-4.4 M239.31 916.0 v-4.4 M239.31 0.6 v4.4 M74.4 751.17 h4.4 M989.6 751.17 h-4.4 M275.94 916.0 v-4.4 M275.94 0.6 v4.4 M74.4 714.55 h4.4 M989.6 714.55 h-4.4 M312.57 916.0 v-4.4 M312.57 0.6 v4.4 M74.4 677.94 h4.4 M989.6 677.94 h-4.4 M349.20 916.0 v-7.1 M349.20 0.6 v7.1 M74.4 641.32 h7.1 M989.6 641.32 h-7.1 M385.83 916.0 v-4.4 M385.83 0.6 v4.4 M74.4 604.71 h4.4 M989.6 604.71 h-4.4 M422.46 916.0 v-4.4 M422.46 0.6 v4.4 M74.4 568.10 h4.4 M989.6 568.10 h-4.4 M459.09 916.0 v-4.4 M459.09 0.6 v4.4 M74.4 531.48 h4.4 M989.6 531.48 h-4.4 M495.72 916.0 v-4.4 M495.72 0.6 v4.4 M74.4 494.86 h4.4 M989.6 494.86 h-4.4 M532.35 916.0 v-7.1 M532.35 0.6 v7.1 M74.4 458.25 h7.1 M989.6 458.25 h-7.1 M568.98 916.0 v-4.4 M568.98 0.6 v4.4 M74.4 421.63 h4.4 M989.6 421.63 h-4.4 M605.61 916.0 v-4.4 M605.61 0.6 v4.4 M74.4 385.02 h4.4 M989.6 385.02 h-4.4 M642.24 916.0 v-4.4 M642.24 0.6 v4.4 M74.4 348.40 h4.4 M989.6 348.40 h-4.4 M678.87 916.0 v-4.4 M678.87 0.6 v4.4 M74.4 311.79 h4.4 M989.6 311.79 h-4.4 M715.50 916.0 v-7.1 M715.50 0.6 v7.1 M74.4 275.17 h7.1 M989.6 275.17 h-7.1 M752.13 916.0 v-4.4 M752.13 0.6 v4.4 M74.4 238.56 h4.4 M989.6 238.56 h-4.4 M788.76 916.0 v-4.4 M788.76 0.6 v4.4 M74.4 201.94 h4.4 M989.6 201.94 h-4.4 M825.39 916.0 v-4.4 M825.39 0.6 v4.4 M74.4 165.33 h4.4 M989.6 165.33 h-4.4 M862.02 916.0 v-4.4 M862.02 0.6 v4.4 M74.4 128.71 h4.4 M989.6 128.71 h-4.4 M898.65 916.0 v-7.1 M898.65 0.6 v7.1 M74.4 92.10 h7.1 M989.6 92.10 h-7.1 M935.28 916.0 v-4.4 M935.28 0.6 v4.4 M74.4 55.48 h4.4 M989.6 55.48 h-4.4 M971.91 916.0 v-4.4 M971.91 0.6 v4.4 M74.4 18.87 h4.4 M989.6 18.87 h-4.4" stroke="#5c5c5c" stroke-width="1.1"/>
</g>
<text class="tk tb" x="165.85" y="949.7" text-anchor="middle">0</text>
<text class="tk tl" x="65.7" y="834.15" text-anchor="end">0</text>
<text class="tk tb" x="349.00" y="949.7" text-anchor="middle">5</text>
<text class="tk tl" x="65.7" y="651.07" text-anchor="end">5</text>
<text class="tk tb" x="532.15" y="949.7" text-anchor="middle">10</text>
<text class="tk tl" x="65.7" y="468.00" text-anchor="end">10</text>
<text class="tk tb" x="715.30" y="949.7" text-anchor="middle">15</text>
<text class="tk tl" x="65.7" y="284.92" text-anchor="end">15</text>
<text class="tk tb" x="898.45" y="949.7" text-anchor="middle">20</text>
<text class="tk tl" x="65.7" y="101.85" text-anchor="end">20</text>
<text class="ax" x="519" y="988.6" style="font-size:47.5px">q</text>
<text class="ax" transform="translate(-0.6 473.2) scale(1.05 1)">p</text>
<rect x="755.2" y="26.2" width="35.5" height="36" fill="#b9b9b9"/>
<rect x="756.6" y="27.8" width="32.9" height="33.1" fill="#3F5679"/>
<rect x="757.8" y="29.0" width="30.5" height="30.7" fill="#5E81B5"/>
<rect x="755.2" y="85.2" width="35.5" height="36" fill="#b9b9b9"/>
<rect x="756.6" y="86.8" width="32.9" height="33.1" fill="#966818"/>
<rect x="757.8" y="88.0" width="30.5" height="30.7" fill="#E19C24"/>
<rect x="755.2" y="144.0" width="35.5" height="36" fill="#b9b9b9"/>
<rect x="756.6" y="145.6" width="32.9" height="33.1" fill="#5F7521"/>
<rect x="757.8" y="146.8" width="30.5" height="30.7" fill="#8FB032"/>
<text class="lg" y="59.2"><tspan x="811.9" font-style="italic">α</tspan><tspan x="842.9" y="63.2" font-size="41px">=</tspan><tspan x="875.7" y="59.2">5</tspan></text>
<text class="lg" y="117.7"><tspan x="811.9" font-style="italic">α</tspan><tspan x="842.9" y="121.7" font-size="41px">=</tspan><tspan x="875.7" y="117.7">5</tspan><tspan x="904.6" font-style="italic">e</tspan><tspan x="918.6" y="104.7" font-size="24px" font-style="italic" stroke-width="0.6">𝕚</tspan><tspan x="929.2" font-size="27px" font-style="italic" stroke-width="0.5">π</tspan><tspan x="943.3" y="108.7" font-size="33px">/</tspan><tspan x="952.6" y="104.7" font-size="27px">4</tspan></text>
<text class="lg" y="176.3"><tspan x="811.9" font-style="italic">α</tspan><tspan x="842.9" y="180.3" font-size="41px">=</tspan><tspan x="875.7" y="176.3">5</tspan><tspan x="904.6" font-style="italic">e</tspan><tspan x="918.6" y="163.3" font-size="24px" font-style="italic" stroke-width="0.6">𝕚</tspan><tspan x="929.2" font-size="27px" font-style="italic" stroke-width="0.5">π</tspan><tspan x="943.3" y="167.3" font-size="33px">/</tspan><tspan x="951.9" y="163.3" font-size="27px">2</tspan></text>
</svg></body></html>
